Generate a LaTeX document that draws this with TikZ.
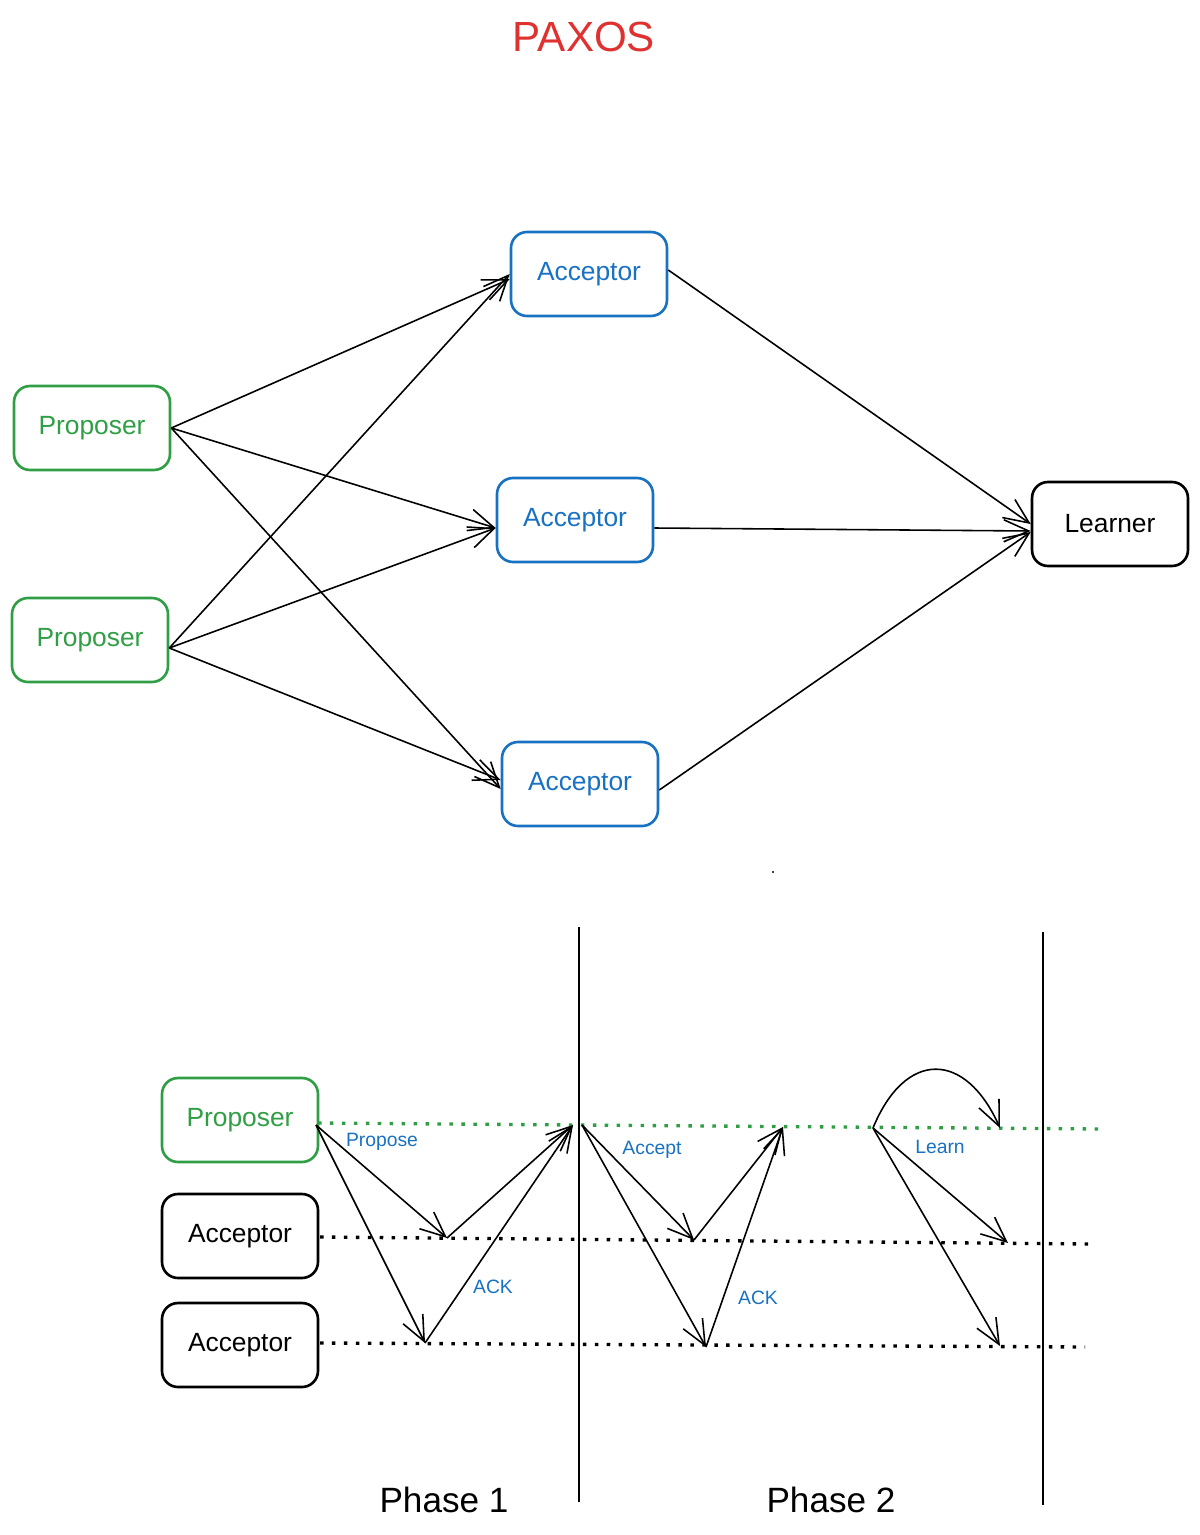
\documentclass[tikz,border=0pt]{standalone}
\usepackage{fontspec}
\setmainfont{Liberation Sans}
\usetikzlibrary{arrows.meta}
\definecolor{exred}{HTML}{E03131}
\definecolor{exgreen}{HTML}{2F9E44}
\definecolor{exblue}{HTML}{1971C2}
\begin{document}
\begin{tikzpicture}[x=0.02cm,y=-0.02cm,
  box/.style={draw, rounded corners=0.32cm, line width=1.5pt, minimum width=3.12cm, minimum height=1.68cm, inner sep=0pt, font=\fontsize{15}{18}\selectfont},
  gbox/.style={box, draw=exgreen, text=exgreen},
  bbox/.style={box, draw=exblue, text=exblue},
  kbox/.style={box, draw=black, text=black},
  arr/.style={-{Straight Barb[length=5mm,width=4.4mm]}, line width=0.9pt},
  lbl/.style={text=exblue, font=\fontsize{11}{13}\selectfont},
  phase/.style={font=\fontsize{20}{24}\selectfont},
  dotl/.style={line width=1.9pt, dash pattern=on 2pt off 4.8pt},
  vline/.style={line width=1.2pt}
]
\useasboundingbox (0,0) rectangle (1200,1535);
% title
\node[text=exred, font=\fontsize{24}{28}\selectfont] (title) at (584,37) {PAXOS};
% top diagram
\node[bbox] (A1) at (589,274) {Acceptor};
\node[bbox] (A2) at (575,520) {Acceptor};
\node[bbox] (A3) at (580,784) {Acceptor};
\node[gbox] (P1) at (92,428) {Proposer};
\node[gbox] (P2) at (90,640) {Proposer};
\node[kbox] (L) at (1110,524) {Learner};
\draw[arr] (P1.east) -- ([yshift=-0.1cm]A1.west);
\draw[arr] (P1.east) -- ([yshift=-0.16cm]A2.west);
\draw[arr] (P1.east) -- ([yshift=-0.1cm]A3.west);
\draw[arr] ([yshift=-0.16cm]P2.east) -- (A1.west);
\draw[arr] ([yshift=-0.16cm]P2.east) -- ([yshift=-0.16cm]A2.west);
\draw[arr] ([yshift=-0.16cm]P2.east) -- ([yshift=0.08cm]A3.west);
\draw[arr] ([yshift=0.08cm]A1.east) -- ([yshift=0cm]L.west);
\draw[arr] ([yshift=-0.16cm]A2.east) -- ([yshift=-0.14cm]L.west);
\draw[arr] ([yshift=-0.12cm]A3.east) -- ([yshift=-0.16cm]L.west);
% stray dot
\fill (773,872) circle (0.6pt);
% bottom diagram
\node[gbox] (BP) at (240,1120) {Proposer};
\node[kbox] (BA1) at (240,1236) {Acceptor};
\node[kbox] (BA2) at (240,1345) {Acceptor};
\coordinate (g0) at (318,1123);
\coordinate (g1) at (1098,1129);
\coordinate (k10) at (320,1237);
\coordinate (k11) at (1088,1244);
\coordinate (k20) at (320,1343);
\coordinate (k21) at (1085,1347);
\draw[dotl, exgreen] (g0) -- (g1);
\draw[dotl] (k10) -- (k11);
\draw[dotl] (k20) -- (k21);
\coordinate (v1t) at (579,927);
\coordinate (v1b) at (579,1502);
\coordinate (v2t) at (1043,932);
\coordinate (v2b) at (1043,1505);
\draw[vline] (v1t) -- (v1b);
\draw[vline] (v2t) -- (v2b);
% points
\coordinate (s1) at (316,1125);
\coordinate (a1) at (447,1238);
\coordinate (b1) at (425,1343);
\coordinate (t1) at (573,1125);
\coordinate (s2) at (582,1125);
\coordinate (a2) at (694,1240);
\coordinate (b2) at (706,1347);
\coordinate (t2) at (783,1127);
\coordinate (s3) at (873,1128);
\coordinate (l1) at (1000,1128);
\coordinate (a3) at (1008,1243);
\coordinate (b3) at (1000,1346);
% phase 1
\draw[arr] (s1) -- (a1);
\draw[arr] (s1) -- (b1);
\draw[arr] (a1) -- (t1);
\draw[arr] (b1) -- (t1);
% phase 2
\draw[arr] (s2) -- (a2);
\draw[arr] (s2) -- (b2);
\draw[arr] (a2) -- (t2);
\draw[arr] (b2) -- (t2);
% learn
\draw[arr] (s3) .. controls (905,1050) and (965,1050) .. (l1);
\draw[arr] (s3) -- (a3);
\draw[arr] (s3) -- (b3);
% labels
\node[lbl] (lp) at (382,1142) {Propose};
\node[lbl] (lk1) at (493,1287) {ACK};
\node[lbl] (la) at (652,1150) {Accept};
\node[lbl] (lk2) at (758,1298) {ACK};
\node[lbl] (ll) at (940,1147) {Learn};
\node[phase] (ph1) at (444,1500) {Phase 1};
\node[phase] (ph2) at (831,1500) {Phase 2};
\end{tikzpicture}
\end{document}
